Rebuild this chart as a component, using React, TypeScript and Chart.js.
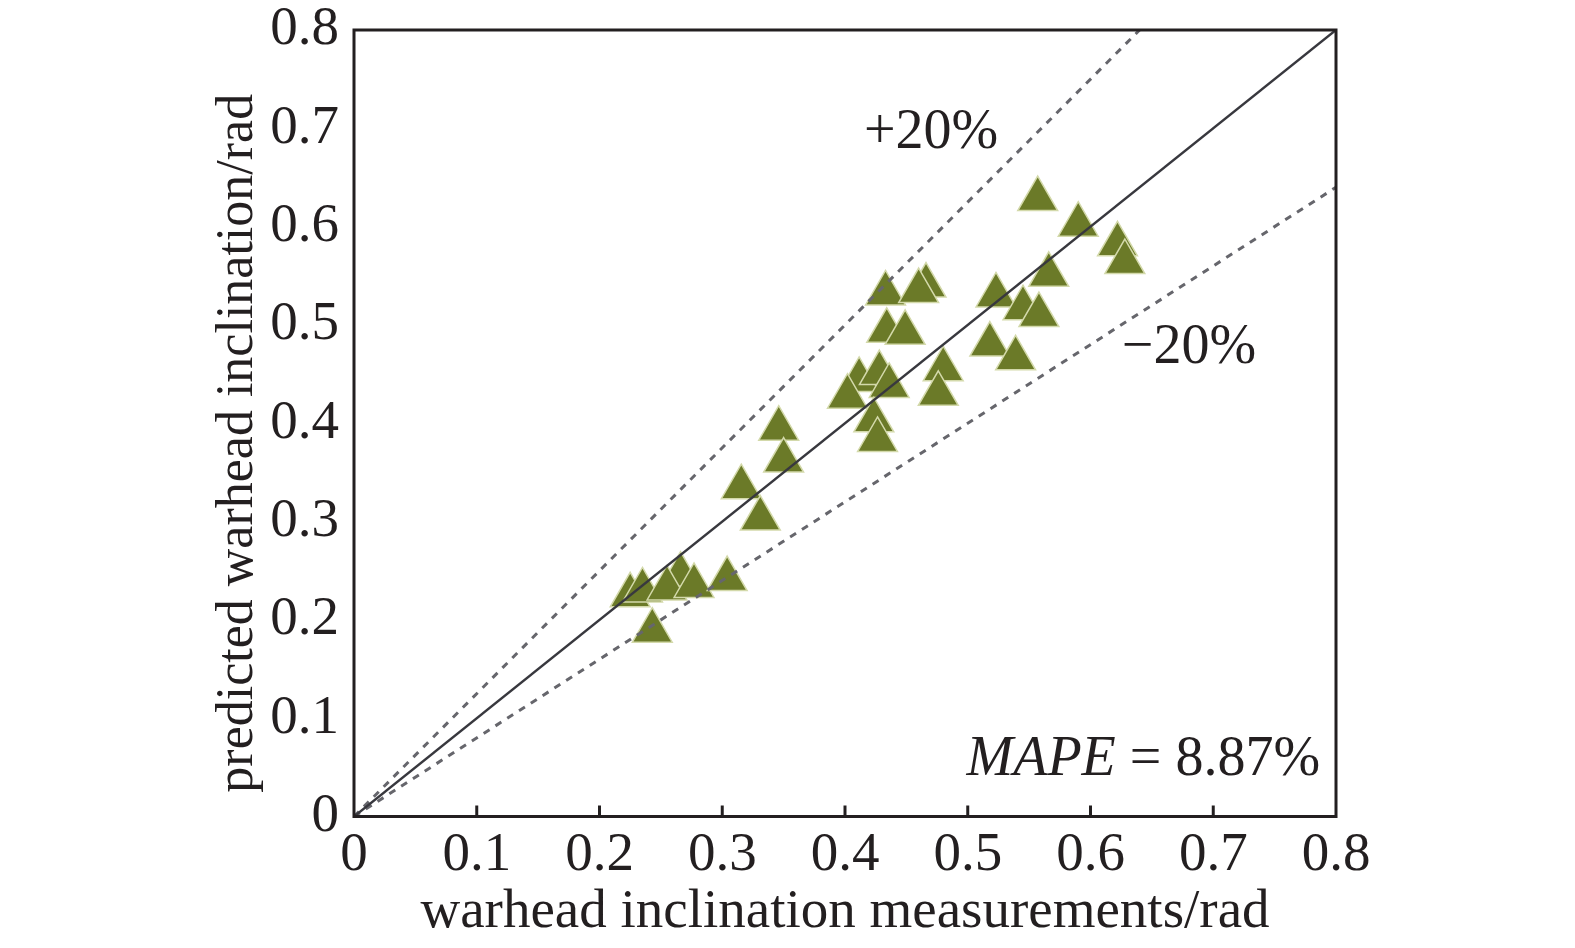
import React, { useEffect, useRef } from "react";
import { Chart, registerables } from "chart.js";

Chart.register(...registerables);

// measured vs predicted warhead inclination (rad)
const MEASURED = [
  0.557, 0.590, 0.622, 0.628, 0.566, 0.523, 0.545, 0.558, 0.518, 0.539,
  0.480, 0.476, 0.433, 0.466, 0.460, 0.434, 0.449, 0.4115, 0.428, 0.402,
  0.436, 0.4235, 0.4265, 0.346, 0.350, 0.3155, 0.331, 0.225, 0.235, 0.266,
  0.255, 0.277, 0.304, 0.243,
];
const PREDICTED = [
  0.628, 0.602, 0.582, 0.564, 0.551, 0.530, 0.517, 0.510, 0.480, 0.466,
  0.455, 0.430, 0.532, 0.540, 0.5345, 0.494, 0.492, 0.444, 0.451, 0.427,
  0.438, 0.403, 0.383, 0.3945, 0.362, 0.335, 0.303, 0.225, 0.230, 0.246,
  0.232, 0.2345, 0.2415, 0.189,
];

const X_TICK_LABELS = ["0", "0.1", "0.2", "0.3", "0.4", "0.5", "0.6", "0.7", "0.8"];
const Y_TICK_LABELS = ["0", "0.1", "0.2", "0.3", "0.4", "0.5", "0.6", "0.7", "0.8"];

const IDEAL_LINE = [{ x: 0, y: 0 }, { x: 0.8, y: 0.8 }];
const UPPER_LINE = [{ x: 0, y: 0 }, { x: 0.64, y: 0.8 }];
const LOWER_LINE = [{ x: 0, y: 0 }, { x: 0.8, y: 0.64 }];

const X_TITLE = "warhead inclination measurements/rad";
const Y_TITLE = "predicted warhead inclination/rad";
const PLUS_LABEL = { text: "+20%", x: 0.4155, y: 0.695 };
const MINUS_LABEL = { text: "\u221220%", x: 0.6255, y: 0.4766 };
const MAPE_LABEL = { name: "MAPE", value: " = 8.87%", x: 0.787, y: 0.0575 };

const FONT = '"Liberation Serif", "Times New Roman", serif';

export default function App() {
  const ref = useRef<HTMLCanvasElement | null>(null);

  useEffect(() => {
    const canvas = ref.current;
    if (!canvas) return;

    const framePlugin = {
      id: "frame",
      afterDatasetsDraw(chart: any) {
        const { ctx, chartArea: a, scales } = chart;
        const xs = scales.x;
        const ys = scales.y;
        ctx.save();
        ctx.strokeStyle = "#231f20";
        ctx.lineWidth = 3;
        for (let i = 1; i < X_TICK_LABELS.length - 1; i++) {
          const px = xs.getPixelForValue(i * 0.1);
          ctx.beginPath();
          ctx.moveTo(px, a.bottom);
          ctx.lineTo(px, a.bottom - 11);
          ctx.stroke();
        }
        ctx.strokeRect(a.left, a.top, a.right - a.left, a.bottom - a.top);

        ctx.fillStyle = "#231f20";
        ctx.textBaseline = "middle";
        ctx.textAlign = "left";
        ctx.font = `56px ${FONT}`;
        ctx.fillText(PLUS_LABEL.text, xs.getPixelForValue(PLUS_LABEL.x), ys.getPixelForValue(PLUS_LABEL.y));
        ctx.fillText(MINUS_LABEL.text, xs.getPixelForValue(MINUS_LABEL.x), ys.getPixelForValue(MINUS_LABEL.y));

        const rx = xs.getPixelForValue(MAPE_LABEL.x);
        const ry = ys.getPixelForValue(MAPE_LABEL.y);
        ctx.font = `56px ${FONT}`;
        const vw = ctx.measureText(MAPE_LABEL.value).width;
        ctx.font = `italic 56px ${FONT}`;
        const nw = ctx.measureText(MAPE_LABEL.name).width;
        ctx.fillText(MAPE_LABEL.name, rx - vw - nw, ry);
        ctx.font = `56px ${FONT}`;
        ctx.fillText(MAPE_LABEL.value, rx - vw, ry);

        // y-axis title (placed slightly below the plot centre, as in the original)
        ctx.translate(238, (a.top + a.bottom) / 2 + 20);
        ctx.rotate(-Math.PI / 2);
        ctx.textAlign = "center";
        ctx.font = `52px ${FONT}`;
        ctx.fillText(Y_TITLE, 0, 0);
        ctx.restore();
      },
    };

    const points = MEASURED.map((x, i) => ({ x, y: PREDICTED[i] }));

    const chart = new Chart(canvas, {
      type: "scatter",
      data: {
        datasets: [
          {
            type: "line",
            data: IDEAL_LINE,
            borderColor: "#38383e",
            borderWidth: 2.5,
            pointRadius: 0,
            fill: false,
            order: 0,
          } as any,
          {
            type: "line",
            data: UPPER_LINE,
            borderColor: "#66666c",
            borderWidth: 3,
            borderDash: [7, 7],
            pointRadius: 0,
            fill: false,
            order: 0,
          } as any,
          {
            type: "line",
            data: LOWER_LINE,
            borderColor: "#66666c",
            borderWidth: 3,
            borderDash: [7, 7],
            pointRadius: 0,
            fill: false,
            order: 0,
          } as any,
          {
            data: points,
            pointStyle: "triangle",
            pointRadius: 23,
            pointHoverRadius: 23,
            backgroundColor: "#6b7a28",
            borderColor: "#d3d9aa",
            borderWidth: 1.5,
            order: 1,
          },
        ],
      },
      options: {
        responsive: false,
        animation: false,
        events: [],
        layout: { padding: { left: 0, top: 30, right: 239, bottom: 0 } },
        plugins: { legend: { display: false }, tooltip: { enabled: false } },
        scales: {
          x: {
            type: "linear",
            min: 0,
            max: 0.8,
            grid: { display: false, drawTicks: false },
            border: { display: false },
            afterFit: (s: any) => {
              s.height = 131.5;
              s.paddingLeft = 0;
              s.paddingRight = 0;
            },
            ticks: {
              stepSize: 0.1,
              padding: 6,
              color: "#231f20",
              font: { family: FONT, size: 55 },
              maxRotation: 0,
              callback: (_v: any, i: number) => X_TICK_LABELS[i],
            },
            title: {
              display: true,
              text: X_TITLE,
              color: "#231f20",
              font: { family: FONT, size: 55 },
              padding: { top: 0, bottom: 2 },
            },
          },
          y: {
            type: "linear",
            min: 0,
            max: 0.8,
            grid: { display: false, drawTicks: false },
            border: { display: false },
            afterFit: (s: any) => {
              s.width = 354;
              s.paddingTop = 0;
              s.paddingBottom = 0;
            },
            ticks: {
              stepSize: 0.1,
              padding: 15,
              color: "#231f20",
              font: { family: FONT, size: 55 },
              callback: (_v: any, i: number) => Y_TICK_LABELS[i],
            },
            title: { display: false },
          },
        },
      },
      plugins: [framePlugin],
    } as any);

    return () => chart.destroy();
  }, []);

  return (
    <div style={{ position: "absolute", left: 0, top: 0, width: 1575, height: 948, background: "#fff" }}>
      <canvas ref={ref} width={1575} height={948} style={{ display: "block" }} />
    </div>
  );
}
